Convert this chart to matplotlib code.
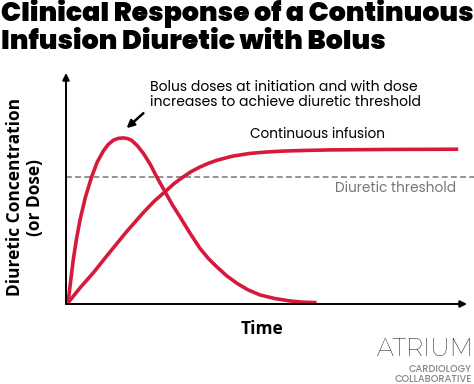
import matplotlib
matplotlib.use("Agg")
import matplotlib.pyplot as plt
from matplotlib import font_manager

# values (time 0-100, concentration 0-100)
bolus_t = [0.5, 1.8, 2.6, 3.5, 4.8, 6.4, 7.8, 9.3, 10.5, 11.8, 13.0, 14.3, 15.4,
           16.4, 17.8, 19.3, 21.0, 22.6, 24.7, 26.5, 28.4, 30.8, 33.4, 35.5,
           37.6, 40.0, 42.6, 45.3, 48.4, 52.0, 55.9, 59.0, 62.5]
bolus_c = [0.5, 19.0, 28.0, 36.4, 46.0, 55.1, 61.5, 66.2, 69.0, 70.9, 71.7, 71.9, 71.6,
           70.8, 68.5, 65.2, 60.5, 55.1, 48.6, 43.0, 37.8, 31.0, 24.1, 19.7,
           16.1, 12.3, 9.0, 6.2, 3.9, 2.4, 1.3, 0.8, 0.6]

infusion_t = [0.5, 3.5, 6.8, 11.0, 15.1, 19.3, 22.0, 24.7, 27.0, 29.3, 31.3, 33.4,
              35.5, 37.6, 41.5, 45.9, 50.0, 54.2, 60.0, 65.8, 80.0, 97.8]
infusion_c = [0.5, 7.0, 13.5, 22.6, 31.3, 39.6, 44.5, 48.6, 52.2, 55.1, 57.4, 59.3,
              60.9, 62.2, 64.0, 65.2, 65.8, 66.2, 66.5, 66.7, 66.9, 67.0]

threshold = 55.1
threshold_t = [0, 101.7]

RED = "#d71a3b"

names = {f.name for f in font_manager.fontManager.ttflist}
geo = "Poppins" if "Poppins" in names else "Lato"
thin = "Montserrat" if "Montserrat" in names else geo
humanist = "Open Sans" if "Open Sans" in names else "DejaVu Sans"

fig = plt.figure(figsize=(4.74, 3.84), dpi=100)
ax = fig.add_axes([66 / 474, 1 - 304 / 384, 401 / 474, 231 / 384])
ax.set_xlim(0, 100)
ax.set_ylim(0, 100)
for s in ax.spines.values():
    s.set_visible(False)
ax.set_xticks([])
ax.set_yticks([])

# axes drawn as arrows
ax.annotate("", xy=(1, 0), xytext=(0, 0), xycoords="axes fraction",
            arrowprops=dict(arrowstyle="-|>", color="black", lw=1.4,
                            mutation_scale=10, shrinkA=0, shrinkB=0))
ax.annotate("", xy=(0, 1), xytext=(0, 0), xycoords="axes fraction",
            arrowprops=dict(arrowstyle="-|>", color="black", lw=1.4,
                            mutation_scale=10, shrinkA=0, shrinkB=0))

ax.plot(threshold_t, [threshold, threshold], ls=(0, (3.5, 2)), color="#808080",
        lw=1.2, clip_on=False)
ax.plot(infusion_t, infusion_c, color=RED, lw=2.6, solid_capstyle="butt",
        solid_joinstyle="round")
ax.plot(bolus_t, bolus_c, color=RED, lw=2.6, solid_capstyle="butt",
        solid_joinstyle="round")

ax.text(20.9, 90.5, "Bolus doses at initiation and with dose\nincreases to achieve diuretic threshold",
        ha="left", va="center", fontsize=10, family=geo, linespacing=1.05)
ax.annotate("", xy=(15.1, 76.1), xytext=(19.3, 82.6),
            arrowprops=dict(arrowstyle="-|>", color="black", lw=1.8,
                            mutation_scale=11, shrinkA=0, shrinkB=0))
ax.text(62.8, 73.2, "Continuous infusion", ha="center", va="center",
        fontsize=9.8, family=geo)
ax.text(82.3, 49.8, "Diuretic threshold", ha="center", va="center",
        fontsize=9.9, family=geo, color="#777777")

fig.text(1 / 474, 1 + 1 / 384, "Clinical Response of a Continuous\nInfusion Diuretic with Bolus",
         ha="left", va="top", fontsize=19.3, fontweight=900, family=geo,
         linespacing=1.12)

fig.text(25 / 474, 1 - 197 / 384, "Diuretic Concentration\n(or Dose)", rotation=90,
         ha="center", va="center", multialignment="center", fontsize=12.5,
         fontweight="bold", family=humanist, linespacing=1.2)
fig.text(262 / 474, 1 - 329 / 384, "Time", ha="center", va="center",
         fontsize=12.5, fontweight="bold", family=humanist)

fig.text(474 / 474, 1 - 349 / 384, "ATRIUM", ha="right", va="center",
         fontsize=17.5, family=thin)
fig.text(472 / 474, 1 - 370 / 384, "CARDIOLOGY", ha="right", va="center",
         fontsize=7, fontweight=500, family=geo, color="#888888")
fig.text(472 / 474, 1 - 380 / 384, "COLLABORATIVE", ha="right", va="center",
         fontsize=7, fontweight=500, family=geo, color="#888888")

fig.savefig("out.png", dpi=100)
